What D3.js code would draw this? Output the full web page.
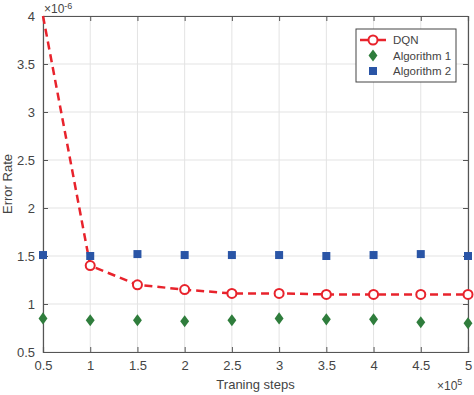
<!DOCTYPE html>
<html>
<head>
<meta charset="utf-8">
<script src="https://cdn.jsdelivr.net/npm/d3@7"></script>
<style>
  body { margin: 0; background: #fff; }
  text { font-family: "Liberation Sans", Arial, sans-serif; }
</style>
</head>
<body>
<div id="chart"></div>
<script>
// steps (x10^5)
const steps = [0.5, 1, 1.5, 2, 2.5, 3, 3.5, 4, 4.5, 5];
// error rates (x10^-6)
const dqn = [4.0, 1.40, 1.20, 1.15, 1.11, 1.11, 1.10, 1.10, 1.10, 1.10];
const algo1 = [0.85, 0.83, 0.83, 0.82, 0.83, 0.85, 0.84, 0.84, 0.81, 0.80];
const algo2 = [1.51, 1.50, 1.52, 1.51, 1.51, 1.51, 1.50, 1.51, 1.52, 1.50];
const xTicks = [0.5, 1, 1.5, 2, 2.5, 3, 3.5, 4, 4.5, 5];
const yTicks = [0.5, 1, 1.5, 2, 2.5, 3, 3.5, 4];

const width = 474, height = 395;
const margin = { top: 16, right: 6, bottom: 43, left: 43 };

const svg = d3.select('#chart')
    .append('svg')
    .attr('width', width)
    .attr('height', height);

const x = d3.scaleLinear().domain([0.5, 5]).range([margin.left, width - margin.right]);
const y = d3.scaleLinear().domain([0.5, 4]).range([height - margin.bottom, margin.top]);

const axisColor = '#555';
const textColor = '#444';

// Grid
const grid = svg.append('g');
grid.selectAll('.gx')
    .data(xTicks)
    .enter().append('line')
    .attr('x1', d => x(d)).attr('x2', d => x(d))
    .attr('y1', y(0.5)).attr('y2', y(4))
    .attr('stroke', '#e3e3e3').attr('stroke-width', 1);
grid.selectAll('.gy')
    .data(yTicks)
    .enter().append('line')
    .attr('x1', x(0.5)).attr('x2', x(5))
    .attr('y1', d => y(d)).attr('y2', d => y(d))
    .attr('stroke', '#e3e3e3').attr('stroke-width', 1);

// Axes (ticks point inward)
const xAxis = svg.append('g')
    .attr('transform', `translate(0,${y(0.5)})`)
    .call(d3.axisBottom(x).tickValues(xTicks).tickSize(-5).tickPadding(9).tickFormat(d3.format('')));
const xAxisTop = svg.append('g')
    .attr('transform', `translate(0,${y(4)})`)
    .call(d3.axisTop(x).tickValues(xTicks).tickSize(-5).tickFormat(''));
const yAxis = svg.append('g')
    .attr('transform', `translate(${x(0.5)},0)`)
    .call(d3.axisLeft(y).tickValues(yTicks).tickSize(-5).tickPadding(8).tickFormat(d3.format('')));
const yAxisRight = svg.append('g')
    .attr('transform', `translate(${x(5)},0)`)
    .call(d3.axisRight(y).tickValues(yTicks).tickSize(-5).tickFormat(''));

[xAxis, xAxisTop, yAxis, yAxisRight].forEach(a => {
    a.selectAll('path').attr('stroke', axisColor).attr('stroke-width', 1.2);
    a.selectAll('line').attr('stroke', axisColor);
    a.selectAll('text').attr('fill', textColor).style('font-size', '13px');
});

// DQN line
const line = d3.line().x(d => x(d[0])).y(d => y(d[1]));
const dqnData = steps.map((s, i) => [s, dqn[i]]);
svg.append('path')
    .datum(dqnData)
    .attr('fill', 'none')
    .attr('stroke', '#e8232c')
    .attr('stroke-width', 2.5)
    .attr('stroke-dasharray', '8,5')
    .attr('d', line);

svg.append('g')
    .selectAll('circle')
    .data(dqnData.slice(1))
    .enter().append('circle')
    .attr('cx', d => x(d[0]))
    .attr('cy', d => y(d[1]))
    .attr('r', 4.5)
    .attr('fill', '#fff')
    .attr('stroke', '#e8232c')
    .attr('stroke-width', 2);

// Algorithm 1 diamonds
const diamond = d3.symbol().type(d3.symbolDiamond2).size(70);
svg.append('g')
    .selectAll('path')
    .data(steps.map((s, i) => [s, algo1[i]]))
    .enter().append('path')
    .attr('d', diamond)
    .attr('transform', d => `translate(${x(d[0])},${y(d[1])}) scale(0.85,1.15)`)
    .attr('fill', '#2f7d3c');

// Algorithm 2 squares
svg.append('g')
    .selectAll('rect')
    .data(steps.map((s, i) => [s, algo2[i]]))
    .enter().append('rect')
    .attr('x', d => x(d[0]) - 4)
    .attr('y', d => y(d[1]) - 4)
    .attr('width', 8)
    .attr('height', 8)
    .attr('fill', '#2a55a6');

// Exponent labels
const expTop = svg.append('text')
    .attr('x', x(0.5) + 1)
    .attr('y', 13)
    .attr('fill', textColor)
    .style('font-size', '12px');
expTop.append('tspan').text('×10');
expTop.append('tspan').attr('dy', -4).style('font-size', '9px').text('-6');

const expBottom = svg.append('text')
    .attr('x', 437)
    .attr('y', 390)
    .attr('fill', textColor)
    .style('font-size', '12px');
expBottom.append('tspan').text('×10');
expBottom.append('tspan').attr('dy', -5).style('font-size', '9px').text('5');

// Axis titles
svg.append('text')
    .attr('x', (x(0.5) + x(5)) / 2)
    .attr('y', 389)
    .attr('text-anchor', 'middle')
    .attr('fill', textColor)
    .style('font-size', '13px')
    .text('Traning steps');

svg.append('text')
    .attr('transform', `translate(12,${(y(0.5) + y(4)) / 2}) rotate(-90)`)
    .attr('text-anchor', 'middle')
    .attr('fill', textColor)
    .style('font-size', '13px')
    .text('Error Rate');

// Legend
const legend = svg.append('g').attr('transform', 'translate(356,29)');
legend.append('rect')
    .attr('width', 100).attr('height', 53)
    .attr('fill', '#fff')
    .attr('stroke', '#444').attr('stroke-width', 1);

const legendItems = ['DQN', 'Algorithm 1', 'Algorithm 2'];
legendItems.forEach((name, i) => {
    const ly = 11 + i * 15.5;
    const g = legend.append('g').attr('transform', `translate(0,${ly})`);
    if (i === 0) {
        g.append('line').attr('x1', 4).attr('x2', 30).attr('y1', 0).attr('y2', 0)
            .attr('stroke', '#e8232c').attr('stroke-width', 2.5);
        g.append('circle').attr('cx', 17).attr('cy', 0).attr('r', 4.5)
            .attr('fill', '#fff').attr('stroke', '#e8232c').attr('stroke-width', 2);
    } else if (i === 1) {
        g.append('path').attr('d', diamond)
            .attr('transform', 'translate(17,0) scale(0.85,1.15)')
            .attr('fill', '#2f7d3c');
    } else {
        g.append('rect').attr('x', 13).attr('y', -4).attr('width', 8).attr('height', 8)
            .attr('fill', '#2a55a6');
    }
    g.append('text')
        .attr('x', 37).attr('y', 4)
        .attr('fill', textColor)
        .style('font-size', '11.5px')
        .text(name);
});
</script>
</body>
</html>
